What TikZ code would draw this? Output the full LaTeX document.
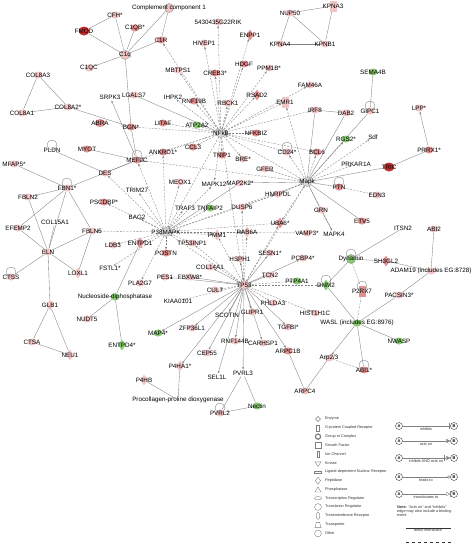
\documentclass[tikz,border=0pt]{standalone}
\usepackage{fontspec}
\setmainfont{Liberation Sans}
\usetikzlibrary{shapes.geometric,arrows.meta}
\pgfdeclarelayer{bg}\pgfsetlayers{bg,main}
\definecolor{lp}{HTML}{F2C4C4}
\definecolor{mp}{HTML}{E39090}
\definecolor{dr}{HTML}{C0302E}
\definecolor{gn}{HTML}{86CC6E}
\definecolor{ln}{HTML}{808080}
\tikzset{
  ell/.style={ellipse,minimum width=9pt,minimum height=7pt,inner sep=0pt},
  dia/.style={diamond,minimum width=8pt,minimum height=11pt,inner sep=0pt},
  grp/.style={circle,minimum size=9pt,inner sep=0pt,draw=ln,line width=0.3pt},
  rct/.style={rectangle,minimum width=7pt,minimum height=11pt,inner sep=0pt},
  lbl/.style={font=\fontsize{6.3}{7}\selectfont,inner sep=0pt,text=black},
  de/.style={draw=ln,line width=0.35pt},
  ie/.style={draw=ln,line width=0.35pt,dash pattern=on 2pt off 1.3pt},
  tip/.style={-{Stealth[length=2.6pt,width=2pt]}},
  slf/.style={draw=ln,line width=0.35pt},
  lgs/.style={draw=ln,line width=0.4pt},
  lgt/.style={font=\fontsize{3.8}{4.2}\selectfont,inner sep=0pt,anchor=west,text=black!80},
  lgc/.style={circle,draw=black!80,line width=0.4pt,minimum size=7pt,inner sep=0pt,font=\fontsize{4}{4}\selectfont\bfseries}
}
\newcommand\G[5][ell]{\node[#1,fill=#4] (#2) at (#3) {}; \node[lbl] (#2-t) at (#3) {#5};}
\begin{document}
\begin{tikzpicture}[x=1pt,y=-1pt]
\useasboundingbox (0,0) rectangle (474,547);
% ---------------- nodes ----------------
\G[grp]{CC1}{169,8}{lp}{Complement component 1}
\G{CFH}{115,15}{lp}{CFH*}
\G[ell,minimum width=11pt,minimum height=9pt]{FMOD}{84,31}{dr}{FMOD}
\G{C1QB}{135,28}{mp}{C1QB*}
\G{C1R}{161,40}{mp}{C1R}
\G[grp]{C1q}{125,55}{lp}{C1q}
\G{C1QC}{89,68}{lp}{C1QC}
\G{R5430}{218,22}{lp}{5430435G22RIK}
\G{HIVEP1}{204,43}{lp}{HIVEP1}
\G[dia]{ENPP1}{250,35}{mp}{ENPP1}
\G{NUP50}{290,13}{lp}{NUP50}
\G{KPNA4}{280,44}{lp}{KPNA4}
\G{KPNB1}{325,44}{lp}{KPNB1}
\G[rct]{KPNA3}{333,6}{lp}{KPNA3}
\G{MBTPS1}{178,70}{lp}{MBTPS1}
\G{CREB3}{215,73}{mp}{CREB3*}
\G{HDGF}{244,64}{mp}{HDGF}
\G{PPM1B}{269,68}{lp}{PPM1B*}
\G{IHPK2}{173,97}{none}{IHPK2}
\G{RNF19B}{194,101}{mp}{RNF19B}
\G{RBCK1}{228,103}{lp}{RBCK1}
\G[dia]{RSAD2}{257,95}{mp}{RSAD2}
\G[rct]{EMR1}{285,102}{lp}{EMR1}
\G{FAM46A}{310,85}{lp}{FAM46A}
\G{IRF8}{315,110}{lp}{IRF8}
\G{COL8A3}{38,75}{lp}{COL8A3}
\G{COL8A1}{22,113}{lp}{COL8A1}
\G{COL8A2}{68,107}{lp}{COL8A2*}
\G{SRPK3}{110,97}{none}{SRPK3}
\G{LGALS7}{134,95}{lp}{LGALS7}
\G[ell,minimum width=11pt,minimum height=8pt]{ABRA}{100,123}{mp}{ABRA}
\G{BGN}{131,127}{mp}{BGN*}
\G{LITAF}{163,123}{mp}{LITAF}
\G{ATP2A2}{197,125}{gn}{ATP2A2}
\G[grp]{NFkB}{221,133}{black!15}{NFkB}
\G{NFKBIZ}{256,133}{mp}{NFKBIZ}
\G{SEMA4B}{373,72}{gn}{SEMA4B}
\G{GIPC1}{370,111}{lp}{GIPC1}
\G{DAB2}{346,113}{lp}{DAB2}
\G{LPP}{419,108}{lp}{LPP*}
\G{RGS2}{346,139}{gn}{RGS2*}
\G{Sdf}{373,137}{none}{Sdf}
\G{PRRX1}{429,150}{mp}{PRRX1*}
\G{PRKAR1A}{356,164}{none}{PRKAR1A}
\G[ell,minimum width=11pt,minimum height=9pt]{TRIC}{389,167}{dr}{TRIC}
\G{PTN}{339,187}{mp}{PTN}
\G{EDN3}{377,195}{lp}{EDN3}
\G{GRN}{321,210}{lp}{GRN}
\G{ETV5}{362,221}{mp}{ETV5}
\G{ITSN2}{403,228}{none}{ITSN2}
\G{ABI2}{434,229}{lp}{ABI2}
\G{MAPK4}{334,234}{none}{MAPK4}
\G[grp]{Dynamin}{351,259}{gn}{Dynamin}
\G[dia]{SH3GL2}{386,261}{mp}{SH3GL2}
\G{ADAM19}{431,271}{lp}{ADAM19 (includes EG:8728)}
\G{CD24}{287,152}{lp}{CD24*}
\G{BCL6}{317,152}{mp}{BCL6}
\G[grp]{Mapk}{307,182}{black!15}{Mapk}
\G{ANKRD1}{163,152}{mp}{ANKRD1*}
\G{CCL3}{193,147}{mp}{CCL3}
\G{TNIP1}{222,155}{mp}{TNIP1}
\G{BRE}{243,159}{lp}{BRE*}
\G{GFER}{265,169}{lp}{GFER}
\G{MEOX1}{180,182}{lp}{MEOX1}
\G{MAPK12}{214,184}{none}{MAPK12}
\G{MAP2K2}{240,183}{lp}{MAP2K2*}
\G{HNRPDL}{278,194}{lp}{HNRPDL}
\G{TRAF3}{185,208}{none}{TRAF3}
\G{TNFAIP2}{210,208}{gn}{TNFAIP2}
\G{DUSP6}{242,207}{lp}{DUSP6}
\G[dia]{UBA6}{280,223}{mp}{UBA6*}
\G[dia]{PMM1}{217,235}{lp}{PMM1}
\G[dia]{RAB6A}{247,232}{lp}{RAB6A}
\G{VAMP3}{307,233}{lp}{VAMP3*}
\G[grp]{P38}{166,232}{black!15}{P38MAPK}
\G{TP53INP1}{192,243}{lp}{TP53INP1}
\G{POSTN}{166,253}{mp}{POSTN}
\G{HSPH1}{240,259}{lp}{HSPH1}
\G{SESN1}{270,253}{lp}{SESN1*}
\G{COL14A1}{210,267}{lp}{COL14A1}
\G{PCBP4}{303,258}{lp}{PCBP4*}
\G{TCN2}{270,275}{lp}{TCN2}
\G{PLDN}{52,150}{none}{PLDN}
\G{MYOT}{87,149}{mp}{MYOT}
\G{MEF2C}{137,160}{mp}{MEF2C}
\G{DES}{105,173}{lp}{DES}
\G{MFAP5}{14,164}{lp}{MFAP5*}
\G{FBN1}{67,188}{lp}{FBN1*}
\G{FBLN2}{28,197}{lp}{FBLN2}
\G{TRIM27}{137,190}{none}{TRIM27}
\G{PSCDBP}{104,202}{mp}{PSCDBP*}
\G{BAG2}{137,217}{none}{BAG2}
\G{COL15A1}{55,222}{none}{COL15A1}
\G{EFEMP2}{18,228}{lp}{EFEMP2}
\G{FBLN5}{92,231}{lp}{FBLN5}
\G{ELN}{48,252}{lp}{ELN}
\G{LDB3}{113,245}{lp}{LDB3}
\G[dia]{ENTPD1}{140,243}{mp}{ENTPD1}
\G{FSTL1}{110,268}{none}{FSTL1*}
\G[dia]{LOXL1}{78,273}{lp}{LOXL1}
\G{CTSS}{11,277}{lp}{CTSS}
\G{PLA2G7}{140,283}{lp}{PLA2G7}
\G{NDP}{115,297}{gn}{Nucleoside-diphosphatase}
\G{NUDT5}{87,319}{lp}{NUDT5}
\G[dia]{GLB1}{50,305}{lp}{GLB1}
\G{CTSA}{32,342}{lp}{CTSA}
\G[dia]{NEU1}{70,355}{lp}{NEU1}
\G[dia]{ENTPD4}{122,345}{gn}{ENTPD4*}
\G[dia]{P4HB}{144,380}{lp}{P4HB}
\G{PES1}{165,277}{lp}{PES1}
\G{FBXW8}{190,277}{lp}{FBXW8*}
\G{CUL7}{215,290}{lp}{CUL7}
\G[grp]{TP53}{244,285}{lp}{TP53}
\G{PTP4A1}{297,281}{gn}{PTP4A1}
\G{KIAA0101}{178,301}{none}{KIAA0101}
\G{PHLDA3}{273,303}{lp}{PHLDA3}
\G{HIST1H1C}{315,313}{lp}{HIST1H1C}
\G{SCOTIN}{227,315}{none}{SCOTIN}
\G{GLIPR1}{252,312}{lp}{GLIPR1}
\G{TGFBI}{288,327}{lp}{TGFBI*}
\G{ZFP36L1}{192,328}{lp}{ZFP36L1}
\G{MAP4}{158,333}{gn}{MAP4*}
\G{RNF144B}{235,341}{lp}{RNF144B}
\G{CARHSP1}{263,343}{lp}{CARHSP1}
\G{ARPC1B}{288,351}{mp}{ARPC1B}
\G{CEP55}{207,353}{lp}{CEP55}
\G[dia]{P4HA1}{180,366}{lp}{P4HA1*}
\G{SEL1L}{217,377}{none}{SEL1L}
\G{PVRL3}{243,373}{none}{PVRL3}
\G{ARPC4}{305,391}{lp}{ARPC4}
\G{PCPD}{178,400}{none}{Procollagen-proline dioxygenase}
\G{Nectin}{257,406}{gn}{Nectin}
\G{PVRL2}{220,413}{lp}{PVRL2}
\G[dia]{DNM2}{326,285}{gn}{DNM2}
\G[rct]{P2RX7}{362,291}{mp}{P2RX7}
\G{PACSIN3}{399,295}{lp}{PACSIN3*}
\G{WASL}{357,323}{gn}{WASL (includes EG:8976)}
\G{NWASP}{399,341}{gn}{NWASP}
\G{Arp23}{329,358}{lp}{Arp2/3}
\G{ABI1}{364,370}{mp}{ABI1*}
% ---------------- edges ----------------
\begin{pgfonlayer}{bg}
\foreach \a/\b in {CFH/FMOD,CFH/C1q,FMOD/C1q,C1QB/C1q,C1R/C1q,C1QC/C1q,CC1/C1q,CC1/C1R,C1q/BGN,
  COL8A3/COL8A1,COL8A3/COL8A2,COL8A1/COL8A2,COL8A2/BGN,BGN/MEF2C,LGALS7/NFkB,
  NUP50/KPNA4,NUP50/KPNB1,NUP50/KPNA3,KPNA4/KPNB1,KPNA3/KPNB1,
  SEMA4B/GIPC1,GIPC1/Mapk,DAB2/IRF8,DAB2/Mapk,TRIC/PRRX1,TRIC/Mapk,
  MFAP5/FBN1,FBN1/FBLN2,FBN1/EFEMP2,FBN1/ELN,FBN1/FBLN5,FBN1/MEF2C,FBLN2/ELN,EFEMP2/ELN,
  ELN/FBLN5,ELN/LOXL1,FBLN5/LOXL1,ELN/CTSS,ELN/GLB1,GLB1/CTSA,GLB1/NEU1,CTSA/NEU1,
  PLDN/DES,DES/MEF2C,MYOT/MEF2C,COL15A1/ELN,
  NDP/ENTPD1,NDP/NUDT5,NDP/ENTPD4,P4HA1/PCPD,P4HB/PCPD,
  PVRL3/PVRL2,PVRL3/Nectin,PVRL2/Nectin,
  Dynamin/DNM2,Dynamin/ITSN2,Dynamin/SH3GL2,SH3GL2/ADAM19,ABI2/ADAM19,ADAM19/PACSIN3,
  PACSIN3/WASL,WASL/NWASP,WASL/ABI1,WASL/DNM2,Arp23/ARPC4,ARPC1B/ARPC4,GRN/MAPK4,
  Mapk/MAP2K2,Mapk/PTN,Mapk/ETV5,Mapk/GRN,Mapk/IRF8,P38/MAP2K2}
  \draw[de] (\a) -- (\b);
\foreach \a/\b in {MEF2C/SRPK3,PRRX1/LPP,TP53/PVRL3,WASL/Arp23}
  \draw[de,tip] (\a) -- (\b);
\foreach \b in {C1R,MBTPS1,HIVEP1,CREB3,R5430,ENPP1,HDGF,PPM1B,IHPK2,RNF19B,RBCK1,RSAD2,EMR1,
  FAM46A,IRF8,LITAF,ATP2A2,NFKBIZ,CCL3,TNIP1,BRE,ANKRD1,MEF2C,BGN,CD24,BCL6,P38,MAPK12,TP53}
  \draw[ie,tip] (NFkB) -- (\b);
\foreach \b in {RGS2,BCL6,CD24,PRKAR1A,EMR1,GFER,HNRPDL,DUSP6,UBA6,MAPK4,NFkB,MEF2C,Sdf}
  \draw[ie,tip] (Mapk) -- (\b);
\foreach \b in {MEF2C,DES,TRIM27,BAG2,PSCDBP,FBLN5,ENTPD1,LDB3,POSTN,TP53INP1,PMM1,RAB6A,VAMP3,
  TRAF3,TNFAIP2,MAPK12,MEOX1,FSTL1,PLA2G7,HNRPDL,UBA6,ANKRD1,Mapk}
  \draw[ie,tip] (P38) -- (\b);
\foreach \b in {SCOTIN,ZFP36L1,CEP55,P4HA1,SEL1L,GLIPR1,RNF144B,CARHSP1,TGFBI,ARPC1B,MAP4,
  TCN2,SESN1,PCBP4,HSPH1,COL14A1,PES1,FBXW8}
  \draw[de,tip] (TP53) -- (\b);
\foreach \b in {CUL7,KIAA0101,PHLDA3,HIST1H1C,PTP4A1,PMM1,TP53INP1,DNM2,Mapk,UBA6,RAB6A,DUSP6,P38}
  \draw[ie,tip] (TP53) -- (\b);
\foreach \a/\b in {Arp23/ABI1,PTN/EDN3,P2RX7/WASL,Dynamin/P2RX7}
  \draw[ie] (\a) -- (\b);
\end{pgfonlayer}
% self loops
\foreach \n in {PLDN,FBN1,MEF2C,GIPC1,CD24,PTN,Dynamin,DNM2,P2RX7,ABI1,PVRL2,CTSS}
  \draw[slf] ([yshift=5pt]\n.center) circle (5pt);
% ---------------- legend ----------------
\foreach \t [count=\i from 0] in {Enzyme,G-protein Coupled Receptor,Group or Complex,Growth Factor,
  Ion Channel,Kinase,Ligand-dependent Nuclear Receptor,Peptidase,Phosphatase,
  Transcription Regulator,Translation Regulator,Transmembrane Receptor,Transporter,Other}
  \node[lgt] (lg\i) at (325,{419+8.8*\i}) {\t};
\draw[lgs] (318,416.5)--(320.5,419)--(318,421.5)--(315.5,419)--cycle;
\draw[lgs] (316.5,424.8) rectangle (319.5,430.8);
\draw[draw=ln,line width=1.2pt] (318,436.6) circle (2.6pt);
\draw[lgs] (315,442.5) rectangle (321,448.3);
\draw[lgs] (317.2,451.2) rectangle (318.8,457.2);
\draw[lgs] (315,461.8)--(321,461.8)--(318,466.6)--cycle;
\draw[lgs] (314.5,470.8) rectangle (321.5,473.6);
\draw[lgs] (318,477.2)--(320.6,480.6)--(318,484)--(315.4,480.6)--cycle;
\draw[lgs] (315,492)--(321,492)--(318,487)--cycle;
\draw[lgs] (318,498.2) ellipse (3.6pt and 1.6pt);
\draw[lgs] (318,507) circle (3.4pt);
\draw[lgs] (318,515.8) ellipse (1.8pt and 3.6pt);
\draw[lgs] (315,527.6)--(316.3,522.4)--(319.7,522.4)--(321,527.6)--cycle;
\draw[lgs] (318,533.4) circle (3.4pt);
% relation legend
\foreach \y/\t [count=\i] in {426/inhibits,441/acts on,458/inhibits AND acts on,477/leads to,494/translocates to}{
  \node[lgc] (la\i) at (399,\y) {A};
  \node[lgc] (lb\i) at (454,\y) {B};
  \node[lgt,anchor=north] (ll\i) at (426,\y+1.8) {\t};
}
\draw[lgs] (la1) -- ([xshift=-1.6pt]lb1.west);
\draw[lgs] ([xshift=-1.6pt]lb1.west) ++(0,-2.6) -- ++(0,5.2);
\draw[lgs,-{Triangle[length=4pt,width=4pt]}] (la2) -- (lb2);
\draw[lgs,-{Triangle[length=4pt,width=4pt]}] (la3) -- (lb3);
\draw[lgs] ([xshift=-6.5pt]lb3.west) ++(0,-2.6) -- ++(0,5.2);
\draw[lgs,-{Circle[open,length=3pt,width=3pt]}] (la4) -- (lb4);
\draw[lgs,-{Triangle[open,length=4pt,width=4pt]}] (la5) -- (lb5);
\draw[lgs] ([xshift=-0.5pt]lb5.west) ++(0,-2.6) -- ++(0,5.2);
\node[lgt,anchor=north west,align=left] (note) at (397,505.5)
  {\textbf{Note:} ``Acts on'' and ``Inhibits''\\edge may also include a binding\\event.};
\coordinate (d1) at (406,528); \coordinate (d2) at (451,528);
\draw[draw=black!80,line width=0.4pt] (d1) -- (d2);
\node[lgt,anchor=north] (dl) at (428,529) {direct interaction};
\coordinate (e1) at (406,542); \coordinate (e2) at (451,542);
\draw[draw=black!80,line width=0.4pt,dashed] (e1) -- (e2);
\end{tikzpicture}
\end{document}
